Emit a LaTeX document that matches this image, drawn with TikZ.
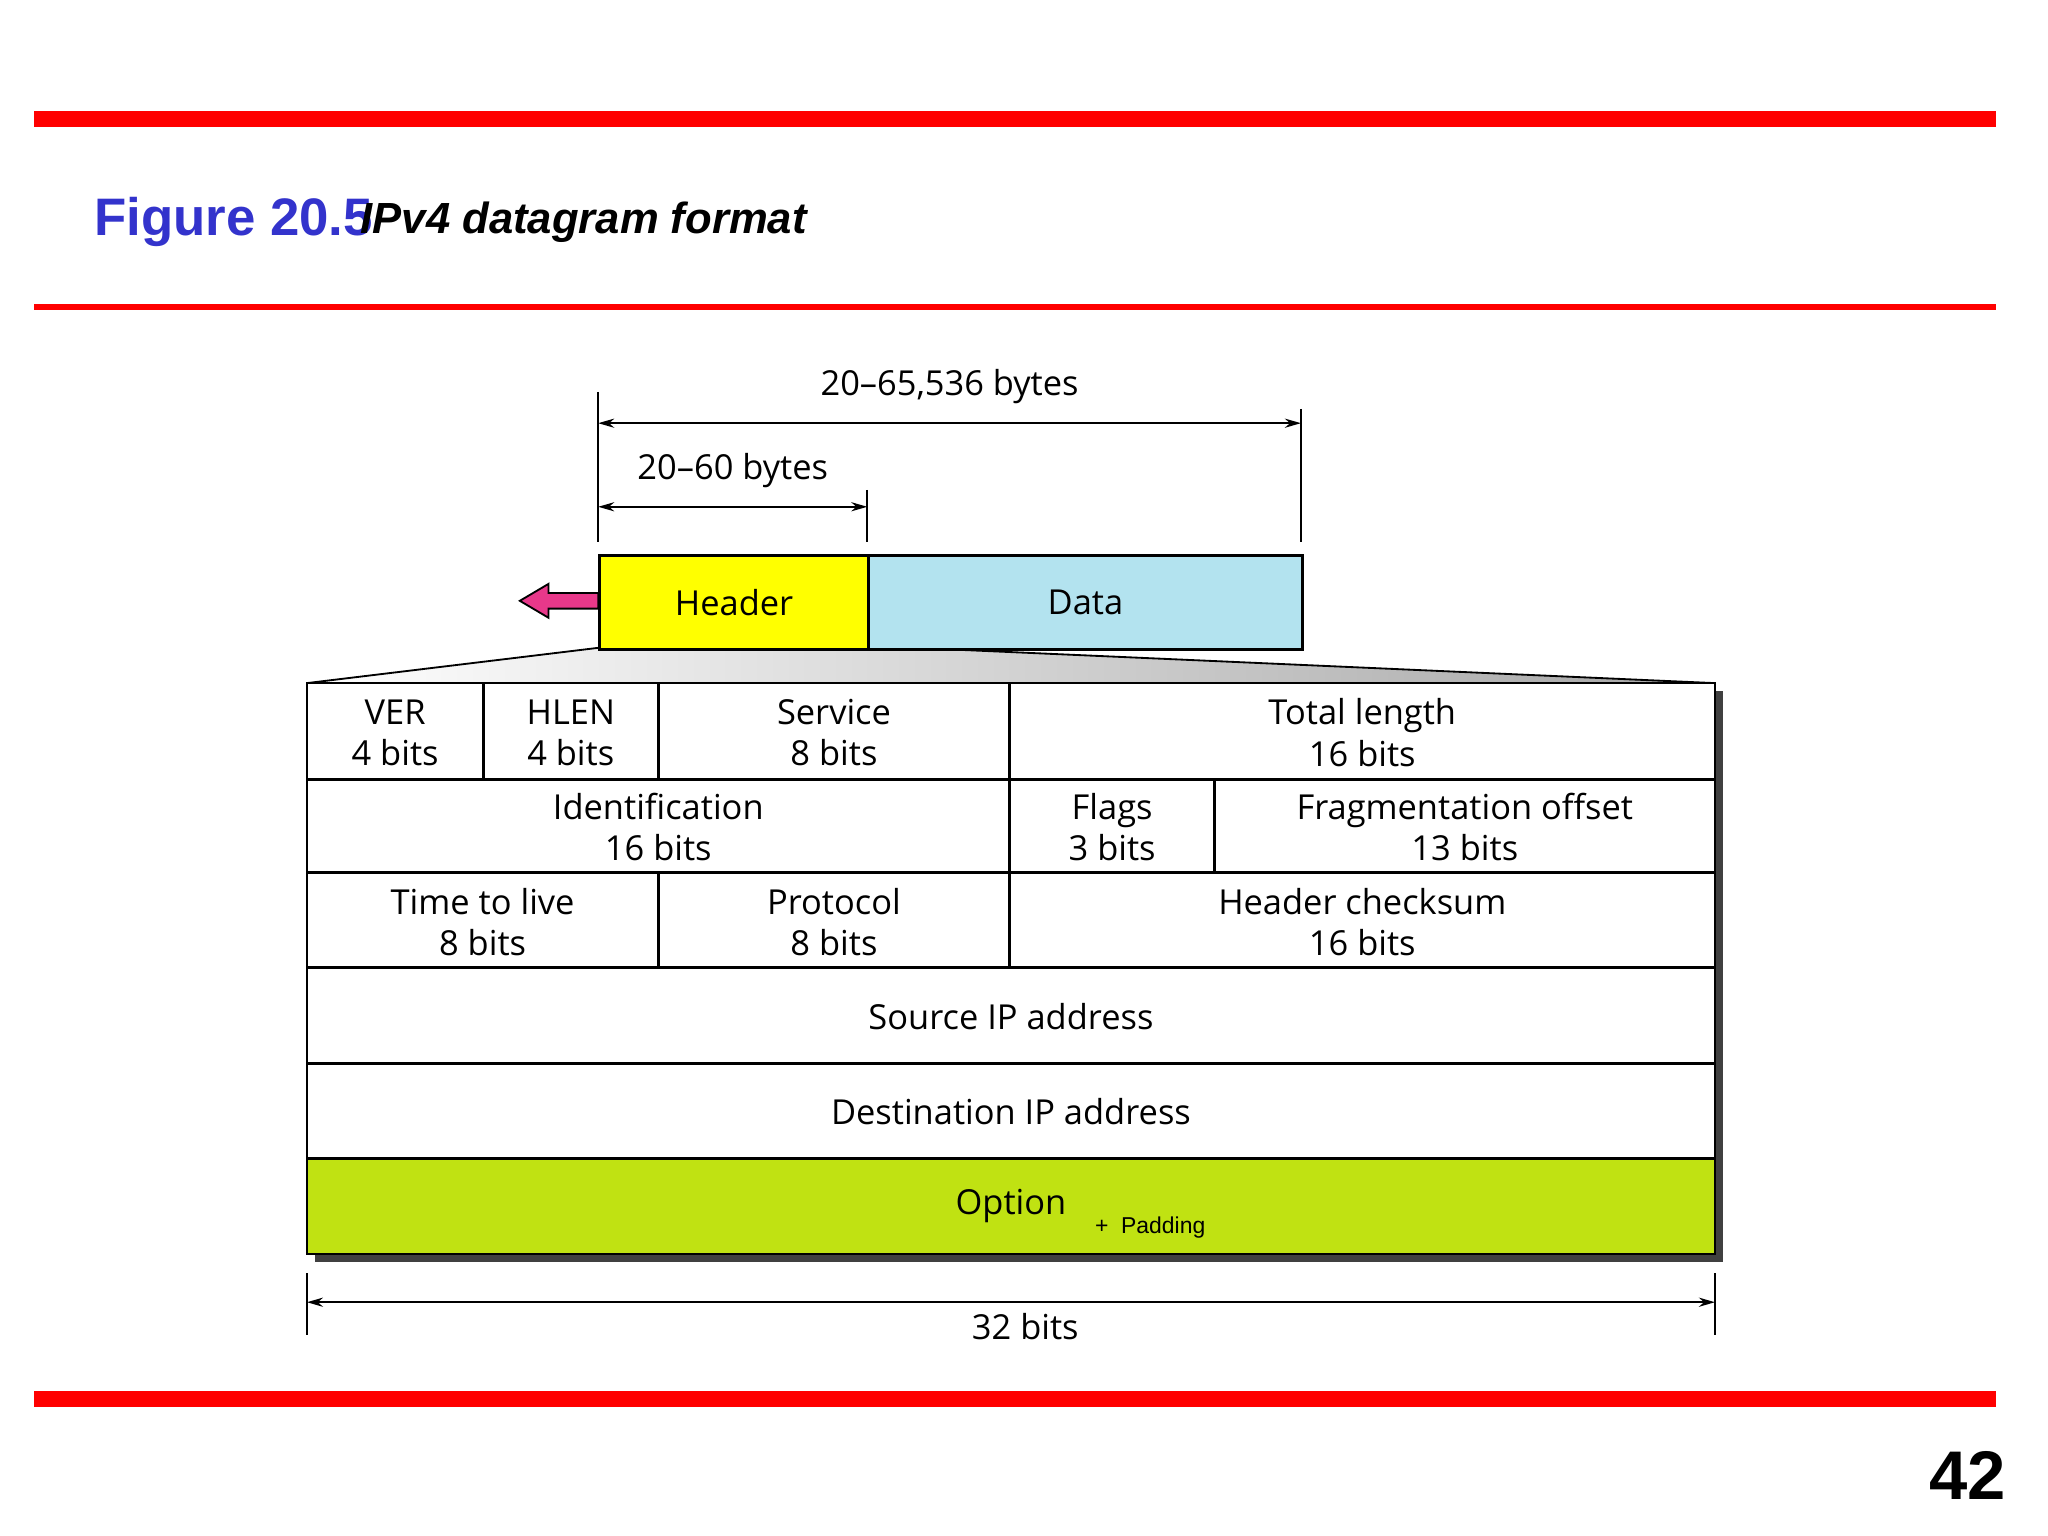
\documentclass[tikz,border=0pt]{standalone}
\usepackage{fontspec}
\setmainfont{Open Sans}
\newfontfamily\titlefont{Liberation Sans}
\usetikzlibrary{arrows.meta}
\definecolor{hdr}{HTML}{FFFF00}
\definecolor{dat}{HTML}{B3E3EF}
\definecolor{opt}{HTML}{C0E212}
\definecolor{redbar}{HTML}{FF0000}
\definecolor{figblue}{HTML}{3333CC}
\definecolor{pinkarr}{HTML}{E8388A}
\begin{document}
\begin{tikzpicture}[x=0.02cm,y=-0.02cm,
  cell/.style={draw=black,line width=1.2pt,fill=white},
  lbl/.style={font=\fontsize{15}{18}\selectfont,align=center,inner sep=0pt},
  dim/.style={line width=0.8pt,{Stealth[length=7pt,width=4pt]}-{Stealth[length=7pt,width=4pt]}},
  tick/.style={line width=0.8pt}]
\useasboundingbox (0,0) rectangle (1568,1176);
% bars
\fill[redbar] (26,85) rectangle (1528,97);
\fill[redbar] (26,233) rectangle (1528,237);
\fill[redbar] (26,1065) rectangle (1528,1077);
\node[anchor=west,text=figblue,font=\titlefont\bfseries\fontsize{23}{27}\selectfont] (fig) at (66,170) {Figure 20.5};
\node[anchor=west,font=\titlefont\bfseries\itshape\fontsize{19}{23}\selectfont] (cap) at (270,170) {IPv4 datagram format};
\node[anchor=east,font=\titlefont\bfseries\fontsize{30}{34}\selectfont] (pg) at (1542,1130) {42};
% fan
\shade[left color=white,right color=gray!70] (458,496) -- (235,523) -- (1313,523) -- (700,496) -- cycle;
\draw[line width=0.8pt] (458,496) -- (235,523);
\draw[line width=0.8pt] (700,496) -- (1313,523);
% header/data
\node[draw,line width=1.2pt,fill=hdr,minimum width=206*0.02cm,minimum height=72*0.02cm,lbl,anchor=north west] (H) at (458,424) {Header};
\node[draw,line width=1.2pt,fill=dat,minimum width=332*0.02cm,minimum height=72*0.02cm,lbl,anchor=north west] (D) at (664,424) {Data};
\draw[fill=pinkarr,line width=0.8pt] (458,454) -- (420,454) -- (420,447) -- (398,460) -- (420,473) -- (420,466) -- (458,466) -- cycle;
% dimension
\coordinate (a1) at (458,300); \coordinate (a2) at (458,415);
\coordinate (b1) at (996,313); \coordinate (b2) at (996,415);
\coordinate (c1) at (664,375); \coordinate (c2) at (664,415);
\draw[tick] (a1)--(a2); \draw[tick] (b1)--(b2); \draw[tick] (c1)--(c2);
\coordinate (l1) at (458,324); \coordinate (r1) at (996,324);
\draw[dim] (l1) -- node[above=8pt,lbl] {20–65,536 bytes} (r1);
\coordinate (l2) at (458,388); \coordinate (r2) at (664,388);
\draw[dim] (l2) -- node[above=8pt,lbl] {20–60 bytes} (r2);
% shadow
\fill[black!75] (241,529) rectangle (1319,966);
% table
\newcommand\cellbox[5]{\draw[cell,fill=#5] (#1,#2) rectangle (#3,#4);}
\cellbox{235}{523}{370}{597}{white}\node[lbl] (c11) at (302.5,561) {VER\\4 bits};
\cellbox{370}{523}{504}{597}{white}\node[lbl] (c12) at (437,561) {HLEN\\4 bits};
\cellbox{504}{523}{773}{597}{white}\node[lbl] (c13) at (638.5,561) {Service\\8 bits};
\cellbox{773}{523}{1313}{597}{white}\node[lbl] (c14) at (1043,561) {Total length\\16 bits};
\cellbox{235}{597}{773}{668}{white}\node[lbl] (c21) at (504,633) {Identification\\16 bits};
\cellbox{773}{597}{930}{668}{white}\node[lbl] (c22) at (851.5,633) {Flags\\3 bits};
\cellbox{930}{597}{1313}{668}{white}\node[lbl] (c23) at (1121.5,633) {Fragmentation offset\\13 bits};
\cellbox{235}{668}{504}{741}{white}\node[lbl] (c31) at (369.5,706) {Time to live\\8 bits};
\cellbox{504}{668}{773}{741}{white}\node[lbl] (c32) at (638.5,706) {Protocol\\8 bits};
\cellbox{773}{668}{1313}{741}{white}\node[lbl] (c33) at (1043,706) {Header checksum\\16 bits};
\cellbox{235}{741}{1313}{814}{white}\node[lbl] (c4) at (774,778) {Source IP address};
\cellbox{235}{814}{1313}{887}{white}\node[lbl] (c5) at (774,851) {Destination IP address};
\cellbox{235}{887}{1313}{960}{opt}\node[lbl] (c6) at (774,923) {Option};
\node[anchor=west,inner sep=0pt,font=\titlefont\fontsize{10}{12}\selectfont] (pad) at (838,940) {+\ \ Padding};
% 32 bits
\coordinate (d1) at (235,975); \coordinate (d2) at (235,1022);
\coordinate (e1) at (1313,975); \coordinate (e2) at (1313,1022);
\draw[tick] (d1)--(d2); \draw[tick] (e1)--(e2);
\coordinate (l3) at (235,997); \coordinate (r3) at (1313,997);
\draw[dim] (l3) -- (r3);
\node[lbl] (w) at (785,1016) {32 bits};
\end{tikzpicture}
\end{document}
